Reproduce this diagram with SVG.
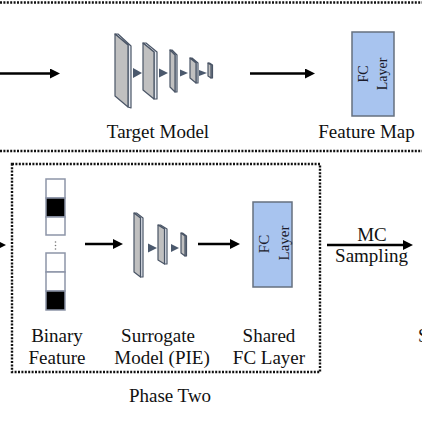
<svg xmlns="http://www.w3.org/2000/svg" width="422" height="422" viewBox="0 0 422 422">
<style>
.t{font-family:"Liberation Serif","Times New Roman",serif;font-size:19px;fill:#111;text-anchor:middle}
.fc{font-family:"Liberation Serif","Times New Roman",serif;font-size:14px;fill:#1a1a2a;text-anchor:middle}
.dot{fill:none;stroke:#111;stroke-width:2.4;stroke-dasharray:2 1.4}
.arr{stroke:#000;stroke-width:2.5;fill:none;marker-end:url(#ah)}
.face{fill:#c0c0c0;stroke:#4a5566;stroke-width:1.2;stroke-linejoin:round}
.side{fill:#e6eaf2;stroke:#4a5566;stroke-width:1.2;stroke-linejoin:round}
.tri{fill:#4b596d}
.box{fill:#a8c4ef;stroke:#66707f;stroke-width:1.5}
.cell{fill:#fff;stroke:#8d95a8;stroke-width:1.5}
.blk{fill:#000;stroke:#8d95a8;stroke-width:1.5}
</style>
<defs>
<marker id="ah" markerUnits="userSpaceOnUse" markerWidth="10" markerHeight="10" refX="2" refY="5" orient="auto">
<path d="M0,0 L10,5 L0,10 z" fill="#000"/>
</marker>
</defs>

<g id="frames">
<line class="dot" x1="0" y1="2.5" x2="422" y2="2.5"/>
<line class="dot" x1="0" y1="151" x2="422" y2="151"/>
<rect id="phase-two-box" class="dot" x="12" y="164" width="308" height="208"/>
</g>

<g id="connectors">
<line class="arr" x1="-2" y1="73.5" x2="52" y2="73.5"/>
<line class="arr" x1="250" y1="73.5" x2="307" y2="73.5"/>
<line class="arr" x1="-12" y1="245" x2="-2" y2="245"/>
<line class="arr" x1="85" y1="244" x2="115" y2="244"/>
<line class="arr" x1="198" y1="244" x2="232" y2="244"/>
<line class="arr" x1="327" y1="245" x2="405" y2="245"/>
</g>

<g id="target-model">
<path class="side" d="M115,34 L118,34 L131,46 L131,108 L128,107 L128,45 Z"/>
<path class="face" d="M115,34 L128,45 L128,107 L115,96 Z"/>
<path class="side" d="M143,43 L146,43 L157,52 L157,99 L154,99 L154,52 Z"/>
<path class="face" d="M143,43 L154,52 L154,99 L143,90 Z"/>
<path class="side" d="M170,50 L172,50 L177,55 L177,92 L175,92 L175,55 Z"/>
<path class="face" d="M170,50 L175,55 L175,92 L170,87 Z"/>
<path class="side" d="M190,58 L192,58 L198,63 L198,83 L196,83 L196,63 Z"/>
<path class="face" d="M190,58 L196,63 L196,83 L190,78 Z"/>
<path class="side" d="M208,63 L209.5,63 L212.5,65 L212.5,78 L211,78 L211,65 Z"/>
<path class="face" d="M208,63 L211,65 L211,78 L208,76 Z"/>
<path class="tri" d="M133,68 L142,73 L133,78 Z"/>
<path class="tri" d="M159,68.5 L168,73 L159,77.5 Z"/>
<path class="tri" d="M180,69.5 L188,73 L180,76.5 Z"/>
<path class="tri" d="M199,70 L207,73 L199,76 Z"/>
<text class="t" x="158" y="138">Target Model</text>
</g>

<g id="feature-map">
<rect class="box" x="352" y="32" width="42" height="84"/>
<text class="fc" transform="translate(368,74) rotate(-90)">FC</text>
<text class="fc" transform="translate(387,74) rotate(-90)">Layer</text>
<text class="t" x="366.5" y="138">Feature Map</text>
</g>

<g id="binary-feature">
<rect class="cell" x="46" y="179" width="19" height="19"/>
<rect class="blk" x="46" y="198" width="19" height="19"/>
<rect class="cell" x="46" y="217" width="19" height="18"/>
<circle cx="55.5" cy="242" r="0.8" fill="#777"/>
<circle cx="55.5" cy="245.5" r="0.8" fill="#777"/>
<circle cx="55.5" cy="249" r="0.8" fill="#777"/>
<rect class="cell" x="46" y="253" width="19" height="19"/>
<rect class="cell" x="46" y="272" width="19" height="19"/>
<rect class="blk" x="46" y="291" width="19" height="19"/>
<text class="t" x="57" y="342">Binary</text>
<text class="t" x="57" y="364">Feature</text>
</g>

<g id="surrogate-model">
<path class="side" d="M134,213 L136.5,213 L143,218 L143,277 L140.5,277 L140.5,218 Z"/>
<path class="face" d="M134,213 L140.5,218 L140.5,277 L134,272 Z"/>
<path class="side" d="M158,225 L160.5,225 L167,229 L167,264 L164.5,264 L164.5,229 Z"/>
<path class="face" d="M158,225 L164.5,229 L164.5,264 L158,260 Z"/>
<path class="side" d="M181,233 L182.5,233 L186.5,236 L186.5,256 L185,256 L185,236 Z"/>
<path class="face" d="M181,233 L185,236 L185,256 L181,253 Z"/>
<path class="tri" d="M148,243.5 L157,248 L148,252.5 Z"/>
<path class="tri" d="M171,244 L179,248 L171,252 Z"/>
<text class="t" x="158" y="342">Surrogate</text>
<text class="t" x="162" y="364">Model (PIE)</text>
</g>

<g id="shared-fc-layer">
<rect class="box" x="253" y="202" width="39" height="85"/>
<text class="fc" style="font-size:15px" transform="translate(269,244) rotate(-90)">FC</text>
<text class="fc" style="font-size:15px" transform="translate(289,243) rotate(-90)">Layer</text>
<text class="t" x="269" y="342">Shared</text>
<text class="t" x="269" y="364">FC Layer</text>
</g>

<g id="labels">
<text class="t" x="372" y="241">MC</text>
<text class="t" x="371.5" y="262">Sampling</text>
<text class="t" x="170" y="402">Phase Two</text>
<text class="t" x="418" y="342" style="text-anchor:start">S</text>
</g>
</svg>
